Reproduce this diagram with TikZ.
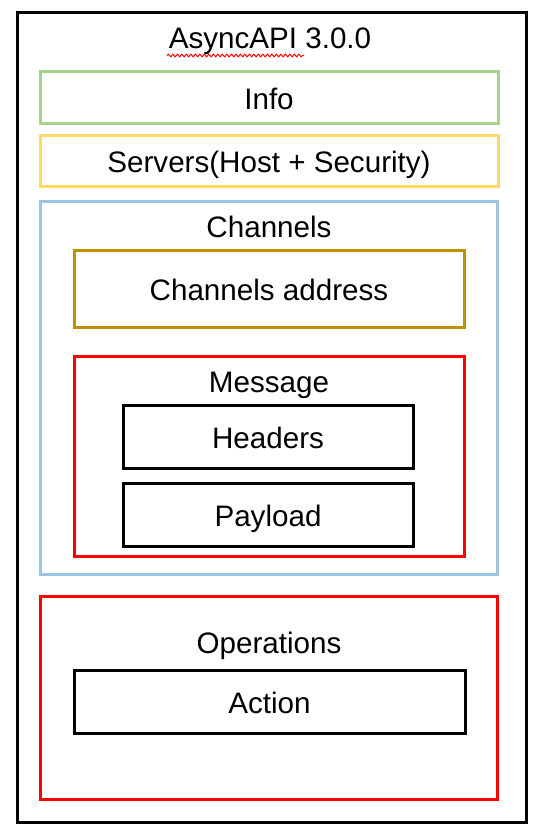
\documentclass[tikz,border=0pt]{standalone}
\usepackage{fontspec}
\setmainfont{Liberation Sans}
\usepackage{tikz}
\usetikzlibrary {decorations.pathmorphing}

\definecolor{infogreen}{RGB}{169,209,142}
\definecolor{srvyellow}{RGB}{255,217,102}
\definecolor{chanblue}{RGB}{157,195,230}
\definecolor{addrgold}{RGB}{191,144,0}

\tikzset{
    box/.style={draw, line width=3pt, rectangle, inner sep=0pt},
    lbl/.style={font=\fontsize{29.6}{34}\selectfont, inner sep=0pt,
        text height=21.2pt, text depth=0pt, yshift=-1.5pt}
}

\begin{document}
\begin{tikzpicture}[x=1pt, y=-1pt]
    \useasboundingbox (0,0) rectangle (538,836);
    \node [box, minimum width=509, minimum height=810] (spec) at (271.5,417) {};
    \node [lbl] (title) at (270,36) {AsyncAPI 3.0.0};
    \draw [red, line width=1pt, decorate, decoration={snake, amplitude=1.3pt, segment length=4.5pt}]
        (167,55.5) -- (304,55.5);
    \node [box, draw=infogreen, minimum width=458, minimum height=52] (info) at (269,97) {};
    \node [lbl] at (info) {Info};
    \node [box, draw=srvyellow, minimum width=458, minimum height=51] (servers) at (269,160.5) {};
    \node [lbl] at (servers) {Servers(Host + Security)};
    \node [box, draw=chanblue, minimum width=457, minimum height=373] (channels) at (268.5,387.5) {};
    \node [lbl] (chantitle) at (269,225.5) {Channels};
    \node [box, draw=addrgold, minimum width=390, minimum height=77] (address) at (269,288.5) {};
    \node [lbl] at (address) {Channels address};
    \node [box, draw=red, minimum width=390, minimum height=200] (message) at (269,456) {};
    \node [lbl] (msgtitle) at (269,380.5) {Message};
    \node [box, minimum width=290, minimum height=63] (headers) at (268,436.5) {};
    \node [lbl] at (headers) {Headers};
    \node [box, minimum width=290, minimum height=63] (payload) at (268,514.5) {};
    \node [lbl] at (payload) {Payload};
    \node [box, draw=red, minimum width=457, minimum height=203] (operations) at (268.5,697.5) {};
    \node [lbl] (optitle) at (269,641.5) {Operations};
    \node [box, minimum width=391, minimum height=63] (action) at (269.5,701.5) {};
    \node [lbl] at (action) {Action};
\end{tikzpicture}
\end{document}
